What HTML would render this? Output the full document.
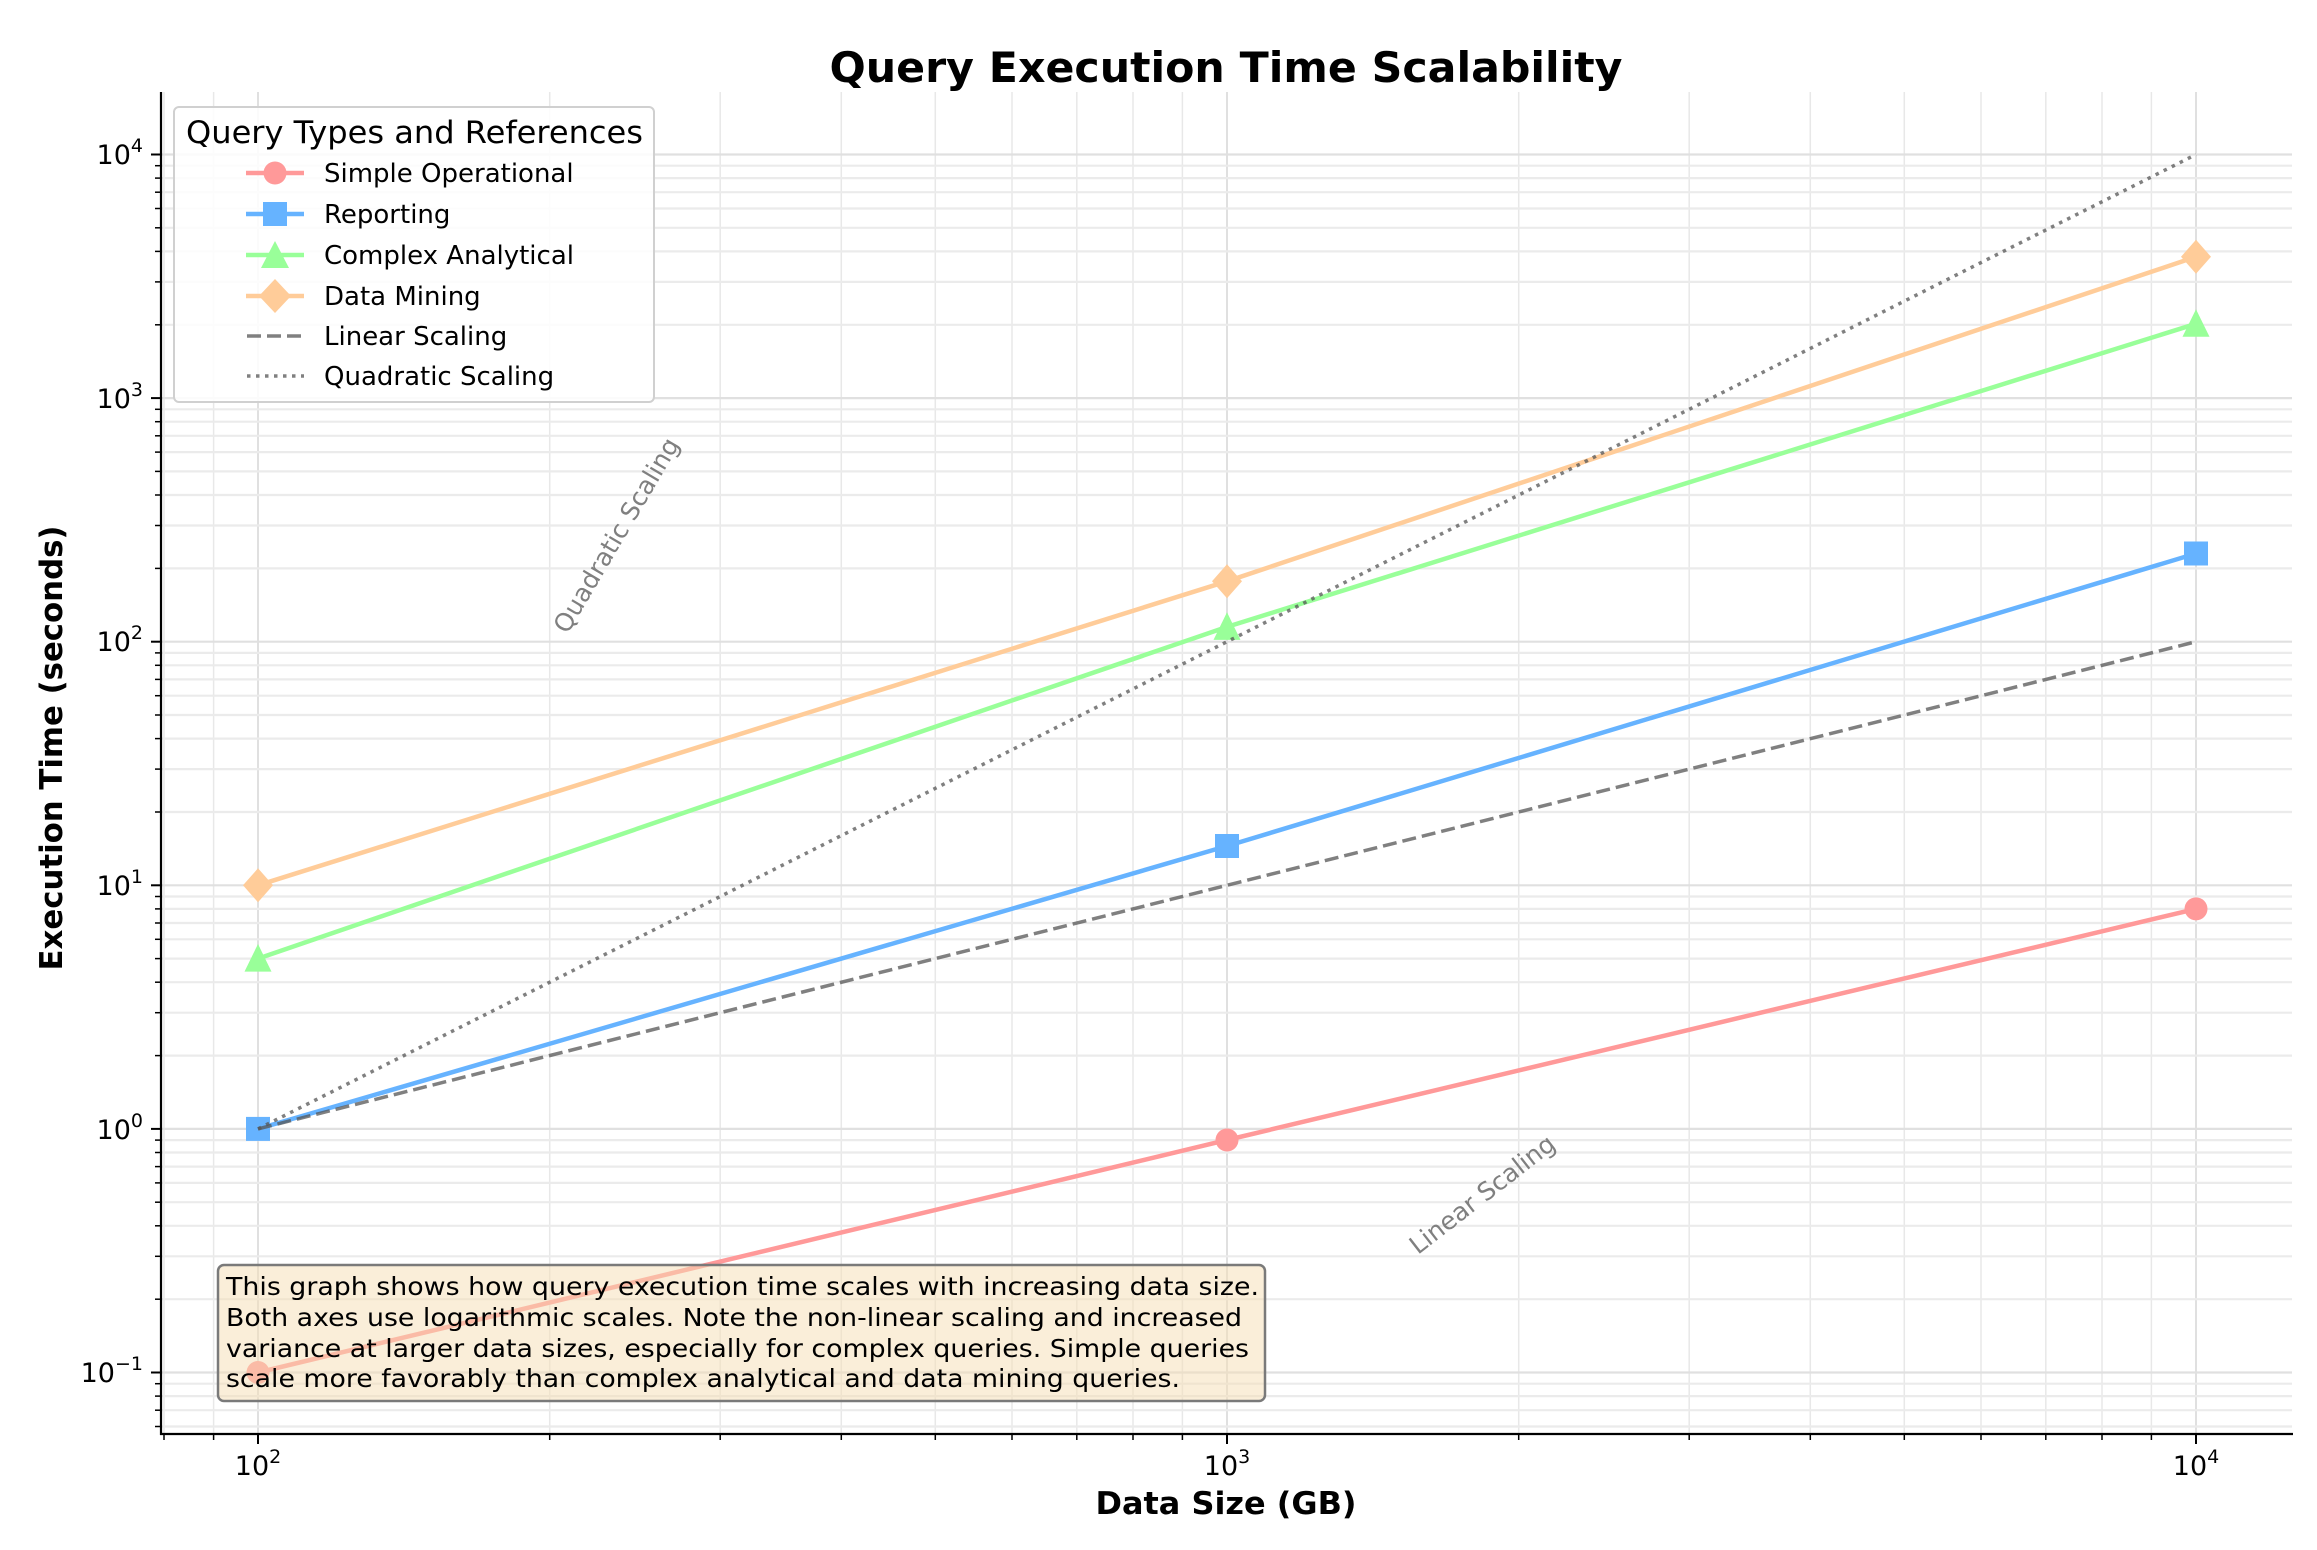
<!DOCTYPE html>
<html><head><meta charset="utf-8"><style>
html,body{margin:0;padding:0;background:#fff;}
svg{display:block;font-family:"DejaVu Sans","Liberation Sans",sans-serif;}
</style></head><body>
<svg width="2317" height="1550" viewBox="0 0 2317 1550" xmlns="http://www.w3.org/2000/svg">
<rect width="2317" height="1550" fill="#fff"/>
<g transform="translate(1,1)">
<!-- vertical grid -->
<g stroke="#e8e8e8" stroke-width="1.5">
<line x1="163" y1="91" x2="163" y2="1433"/><line x1="212.6" y1="91" x2="212.6" y2="1433"/>
<line x1="257" y1="91" x2="257" y2="1433" stroke="#e0e0e0" stroke-width="2"/>
<line x1="548.7" y1="91" x2="548.7" y2="1433"/><line x1="719.2" y1="91" x2="719.2" y2="1433"/><line x1="840.3" y1="91" x2="840.3" y2="1433"/><line x1="934.3" y1="91" x2="934.3" y2="1433"/><line x1="1011" y1="91" x2="1011" y2="1433"/><line x1="1075.8" y1="91" x2="1075.8" y2="1433"/><line x1="1132" y1="91" x2="1132" y2="1433"/><line x1="1181.4" y1="91" x2="1181.4" y2="1433"/>
<line x1="1226" y1="91" x2="1226" y2="1433" stroke="#e0e0e0" stroke-width="2"/>
<line x1="1517.7" y1="91" x2="1517.7" y2="1433"/><line x1="1688.2" y1="91" x2="1688.2" y2="1433"/><line x1="1809.3" y1="91" x2="1809.3" y2="1433"/><line x1="1903.3" y1="91" x2="1903.3" y2="1433"/><line x1="1980" y1="91" x2="1980" y2="1433"/><line x1="2044.8" y1="91" x2="2044.8" y2="1433"/><line x1="2101" y1="91" x2="2101" y2="1433"/><line x1="2150.4" y1="91" x2="2150.4" y2="1433"/>
<line x1="2195" y1="91" x2="2195" y2="1433" stroke="#e0e0e0" stroke-width="2"/>
</g>
<!-- horizontal grid -->
<g stroke="#ebebeb" stroke-width="2.2">
<line x1="159" x2="2291" y1="153.5" y2="153.5" stroke="#e0e0e0"/>
<line x1="159" x2="2291" y1="323.8" y2="323.8"/><line x1="159" x2="2291" y1="280.9" y2="280.9"/><line x1="159" x2="2291" y1="250.4" y2="250.4"/><line x1="159" x2="2291" y1="226.8" y2="226.8"/><line x1="159" x2="2291" y1="207.5" y2="207.5"/><line x1="159" x2="2291" y1="191.2" y2="191.2"/><line x1="159" x2="2291" y1="177.1" y2="177.1"/><line x1="159" x2="2291" y1="164.7" y2="164.7"/>
<line x1="159" x2="2291" y1="397.1" y2="397.1" stroke="#e0e0e0"/>
<line x1="159" x2="2291" y1="567.4" y2="567.4"/><line x1="159" x2="2291" y1="524.5" y2="524.5"/><line x1="159" x2="2291" y1="494" y2="494"/><line x1="159" x2="2291" y1="470.4" y2="470.4"/><line x1="159" x2="2291" y1="451.1" y2="451.1"/><line x1="159" x2="2291" y1="434.8" y2="434.8"/><line x1="159" x2="2291" y1="420.7" y2="420.7"/><line x1="159" x2="2291" y1="408.3" y2="408.3"/>
<line x1="159" x2="2291" y1="640.7" y2="640.7" stroke="#e0e0e0"/>
<line x1="159" x2="2291" y1="811" y2="811"/><line x1="159" x2="2291" y1="768.1" y2="768.1"/><line x1="159" x2="2291" y1="737.6" y2="737.6"/><line x1="159" x2="2291" y1="714" y2="714"/><line x1="159" x2="2291" y1="694.7" y2="694.7"/><line x1="159" x2="2291" y1="678.4" y2="678.4"/><line x1="159" x2="2291" y1="664.3" y2="664.3"/><line x1="159" x2="2291" y1="651.9" y2="651.9"/>
<line x1="159" x2="2291" y1="884.3" y2="884.3" stroke="#e0e0e0"/>
<line x1="159" x2="2291" y1="1054.6" y2="1054.6"/><line x1="159" x2="2291" y1="1011.7" y2="1011.7"/><line x1="159" x2="2291" y1="981.2" y2="981.2"/><line x1="159" x2="2291" y1="957.6" y2="957.6"/><line x1="159" x2="2291" y1="938.3" y2="938.3"/><line x1="159" x2="2291" y1="922" y2="922"/><line x1="159" x2="2291" y1="907.9" y2="907.9"/><line x1="159" x2="2291" y1="895.5" y2="895.5"/>
<line x1="159" x2="2291" y1="1127.9" y2="1127.9" stroke="#e0e0e0"/>
<line x1="159" x2="2291" y1="1298.2" y2="1298.2"/><line x1="159" x2="2291" y1="1255.3" y2="1255.3"/><line x1="159" x2="2291" y1="1224.8" y2="1224.8"/><line x1="159" x2="2291" y1="1201.2" y2="1201.2"/><line x1="159" x2="2291" y1="1181.9" y2="1181.9"/><line x1="159" x2="2291" y1="1165.6" y2="1165.6"/><line x1="159" x2="2291" y1="1151.5" y2="1151.5"/><line x1="159" x2="2291" y1="1139.1" y2="1139.1"/>
<line x1="159" x2="2291" y1="1371.5" y2="1371.5" stroke="#e0e0e0"/>
<line x1="159" x2="2291" y1="1425.5" y2="1425.5"/><line x1="159" x2="2291" y1="1409.2" y2="1409.2"/><line x1="159" x2="2291" y1="1395.1" y2="1395.1"/><line x1="159" x2="2291" y1="1382.7" y2="1382.7"/>
</g>
<!-- series -->
<g stroke-width="4.5" fill="none" stroke-linejoin="round">
<polyline points="257,1371.5 1226,1139 2195,907.9" stroke="#ff9999"/>
<polyline points="257,1127.9 1226,845 2195,552.5" stroke="#66b3ff"/>
<polyline points="257,957.6 1226,625.9 2195,322.8" stroke="#99ff99"/>
<polyline points="257,884.3 1226,580.3 2195,255.8" stroke="#ffcc99"/>
</g>
<!-- markers -->
<g fill="#ff9999"><circle cx="257" cy="1371.5" r="11.5"/><circle cx="1226" cy="1139" r="11.5"/><circle cx="2195" cy="907.9" r="11.5"/></g>
<g fill="#66b3ff"><rect x="245" y="1115.9" width="24" height="24"/><rect x="1214" y="833" width="24" height="24"/><rect x="2183" y="540.5" width="24" height="24"/></g>
<g fill="#99ff99"><polygon points="257,943 270.5,970.6 243.5,970.6"/><polygon points="1226,611.3 1239.5,638.9 1212.5,638.9"/><polygon points="2195,308.2 2208.5,335.8 2181.5,335.8"/></g>
<g fill="#ffcc99"><polygon points="257,867.3 272,884.3 257,901.3 242,884.3"/><polygon points="1226,563.3 1241,580.3 1226,597.3 1211,580.3"/><polygon points="2195,238.8 2210,255.8 2195,272.8 2180,255.8"/></g>
<!-- reference lines -->
<line x1="257" y1="1127.9" x2="2195" y2="640.7" stroke="#555" stroke-opacity="0.75" stroke-width="3.5" stroke-dasharray="14,6"/>
<line x1="257" y1="1127.9" x2="2195" y2="153.5" stroke="#555" stroke-opacity="0.75" stroke-width="3.5" stroke-dasharray="3.5,5.5"/>
<!-- annotations -->
<text x="615" y="543" font-size="25" fill="#808080" text-anchor="middle" transform="rotate(-59.4 615 534)">Quadratic Scaling</text>
<text x="1481" y="1202" font-size="25" fill="#808080" text-anchor="middle" transform="rotate(-37.8 1481 1193)">Linear Scaling</text>
</g>
<!-- axes spines -->
<line x1="161" y1="92" x2="161" y2="1435" stroke="#000" stroke-width="2.2"/>
<line x1="160" y1="1434" x2="2293" y2="1434" stroke="#000" stroke-width="2.2"/>
<!-- y ticks -->
<g stroke="#000" stroke-width="2">
<line x1="151" x2="161" y1="154.5" y2="154.5"/><line x1="151" x2="161" y1="398.1" y2="398.1"/><line x1="151" x2="161" y1="641.7" y2="641.7"/><line x1="151" x2="161" y1="885.3" y2="885.3"/><line x1="151" x2="161" y1="1128.9" y2="1128.9"/><line x1="151" x2="161" y1="1372.5" y2="1372.5"/>
</g>
<g stroke="#000" stroke-width="1.5">
<line x1="155" x2="161" y1="324.8" y2="324.8"/><line x1="155" x2="161" y1="281.9" y2="281.9"/><line x1="155" x2="161" y1="251.4" y2="251.4"/><line x1="155" x2="161" y1="227.8" y2="227.8"/><line x1="155" x2="161" y1="208.5" y2="208.5"/><line x1="155" x2="161" y1="192.2" y2="192.2"/><line x1="155" x2="161" y1="178.1" y2="178.1"/><line x1="155" x2="161" y1="165.7" y2="165.7"/>
<line x1="155" x2="161" y1="568.4" y2="568.4"/><line x1="155" x2="161" y1="525.5" y2="525.5"/><line x1="155" x2="161" y1="495" y2="495"/><line x1="155" x2="161" y1="471.4" y2="471.4"/><line x1="155" x2="161" y1="452.1" y2="452.1"/><line x1="155" x2="161" y1="435.8" y2="435.8"/><line x1="155" x2="161" y1="421.7" y2="421.7"/><line x1="155" x2="161" y1="409.3" y2="409.3"/>
<line x1="155" x2="161" y1="812" y2="812"/><line x1="155" x2="161" y1="769.1" y2="769.1"/><line x1="155" x2="161" y1="738.6" y2="738.6"/><line x1="155" x2="161" y1="715" y2="715"/><line x1="155" x2="161" y1="695.7" y2="695.7"/><line x1="155" x2="161" y1="679.4" y2="679.4"/><line x1="155" x2="161" y1="665.3" y2="665.3"/><line x1="155" x2="161" y1="652.9" y2="652.9"/>
<line x1="155" x2="161" y1="1055.6" y2="1055.6"/><line x1="155" x2="161" y1="1012.7" y2="1012.7"/><line x1="155" x2="161" y1="982.2" y2="982.2"/><line x1="155" x2="161" y1="958.6" y2="958.6"/><line x1="155" x2="161" y1="939.3" y2="939.3"/><line x1="155" x2="161" y1="923" y2="923"/><line x1="155" x2="161" y1="908.9" y2="908.9"/><line x1="155" x2="161" y1="896.5" y2="896.5"/>
<line x1="155" x2="161" y1="1299.2" y2="1299.2"/><line x1="155" x2="161" y1="1256.3" y2="1256.3"/><line x1="155" x2="161" y1="1225.8" y2="1225.8"/><line x1="155" x2="161" y1="1202.2" y2="1202.2"/><line x1="155" x2="161" y1="1182.9" y2="1182.9"/><line x1="155" x2="161" y1="1166.6" y2="1166.6"/><line x1="155" x2="161" y1="1152.5" y2="1152.5"/><line x1="155" x2="161" y1="1140.1" y2="1140.1"/>
<line x1="155" x2="161" y1="1426.5" y2="1426.5"/><line x1="155" x2="161" y1="1410.2" y2="1410.2"/><line x1="155" x2="161" y1="1396.1" y2="1396.1"/><line x1="155" x2="161" y1="1383.7" y2="1383.7"/>
</g>
<!-- x ticks -->
<g stroke="#000" stroke-width="2">
<line x1="258" x2="258" y1="1434" y2="1444"/><line x1="1227" x2="1227" y1="1434" y2="1444"/><line x1="2196" x2="2196" y1="1434" y2="1444"/>
</g>
<g stroke="#000" stroke-width="1.5">
<line x1="164" x2="164" y1="1434" y2="1440"/><line x1="213.6" x2="213.6" y1="1434" y2="1440"/>
<line x1="549.7" x2="549.7" y1="1434" y2="1440"/><line x1="720.2" x2="720.2" y1="1434" y2="1440"/><line x1="841.3" x2="841.3" y1="1434" y2="1440"/><line x1="935.3" x2="935.3" y1="1434" y2="1440"/><line x1="1012" x2="1012" y1="1434" y2="1440"/><line x1="1076.8" x2="1076.8" y1="1434" y2="1440"/><line x1="1133" x2="1133" y1="1434" y2="1440"/><line x1="1182.4" x2="1182.4" y1="1434" y2="1440"/>
<line x1="1518.7" x2="1518.7" y1="1434" y2="1440"/><line x1="1689.2" x2="1689.2" y1="1434" y2="1440"/><line x1="1810.3" x2="1810.3" y1="1434" y2="1440"/><line x1="1904.3" x2="1904.3" y1="1434" y2="1440"/><line x1="1981" x2="1981" y1="1434" y2="1440"/><line x1="2045.8" x2="2045.8" y1="1434" y2="1440"/><line x1="2102" x2="2102" y1="1434" y2="1440"/><line x1="2151.4" x2="2151.4" y1="1434" y2="1440"/>
</g>
<!-- y tick labels -->
<g font-size="27" fill="#000" text-anchor="end">
<text x="143" y="164">10<tspan font-size="19" dy="-12">4</tspan></text>
<text x="143" y="408">10<tspan font-size="19" dy="-12">3</tspan></text>
<text x="143" y="651">10<tspan font-size="19" dy="-12">2</tspan></text>
<text x="143" y="895">10<tspan font-size="19" dy="-12">1</tspan></text>
<text x="143" y="1139">10<tspan font-size="19" dy="-12">0</tspan></text>
<text x="143" y="1382">10<tspan font-size="19" dy="-12">−1</tspan></text>
</g>
<g font-size="27" fill="#000" text-anchor="middle">
<text x="258" y="1475">10<tspan font-size="19" dy="-12">2</tspan></text>
<text x="1227" y="1475">10<tspan font-size="19" dy="-12">3</tspan></text>
<text x="2196" y="1475">10<tspan font-size="19" dy="-12">4</tspan></text>
</g>
<!-- axis labels and title -->
<text x="1226" y="1514" font-size="31" font-weight="bold" text-anchor="middle" textLength="261" lengthAdjust="spacingAndGlyphs">Data Size (GB)</text>
<text x="0" y="0" font-size="31" font-weight="bold" text-anchor="middle" textLength="445" lengthAdjust="spacingAndGlyphs" transform="translate(62 748) rotate(-90)">Execution Time (seconds)</text>
<text x="1226" y="82" font-size="42" font-weight="bold" text-anchor="middle" textLength="793" lengthAdjust="spacingAndGlyphs">Query Execution Time Scalability</text>
<!-- legend -->
<rect x="174" y="107" width="480" height="295" rx="5" fill="#fff" fill-opacity="0.85" stroke="#d0d0d0" stroke-width="2"/>
<text x="186" y="143" font-size="31" textLength="457" lengthAdjust="spacingAndGlyphs">Query Types and References</text>
<g font-size="26" fill="#000">
<line x1="246" x2="304" y1="173" y2="173" stroke="#ff9999" stroke-width="4.5"/><circle cx="275" cy="173" r="11.5" fill="#ff9999"/>
<text x="324" y="182">Simple Operational</text>
<line x1="246" x2="304" y1="214" y2="214" stroke="#66b3ff" stroke-width="4.5"/><rect x="263" y="202" width="24" height="24" fill="#66b3ff"/>
<text x="324" y="223">Reporting</text>
<line x1="246" x2="304" y1="255" y2="255" stroke="#99ff99" stroke-width="4.5"/><polygon points="275,241 289,268 261,268" fill="#99ff99"/>
<text x="324" y="264">Complex Analytical</text>
<line x1="246" x2="304" y1="296" y2="296" stroke="#ffcc99" stroke-width="4.5"/><polygon points="275,279 291,296 275,313 259,296" fill="#ffcc99"/>
<text x="324" y="305">Data Mining</text>
<line x1="247" x2="304" y1="336" y2="336" stroke="#555" stroke-opacity="0.75" stroke-width="3.5" stroke-dasharray="14,6"/>
<text x="324" y="345">Linear Scaling</text>
<line x1="247" x2="304" y1="376" y2="376" stroke="#555" stroke-opacity="0.75" stroke-width="3.5" stroke-dasharray="3.5,5.5"/>
<text x="324" y="385">Quadratic Scaling</text>
</g>
<!-- text box -->
<rect x="218" y="1265" width="1047" height="136" rx="6" fill="#f5deb3" fill-opacity="0.5" stroke="#7a7a7a" stroke-width="2.5"/>
<g font-size="25" fill="#000">
<text x="226" y="1295" textLength="1033" lengthAdjust="spacingAndGlyphs">This graph shows how query execution time scales with increasing data size.</text>
<text x="226" y="1326" textLength="1016" lengthAdjust="spacingAndGlyphs">Both axes use logarithmic scales. Note the non-linear scaling and increased</text>
<text x="226" y="1357" textLength="1023" lengthAdjust="spacingAndGlyphs">variance at larger data sizes, especially for complex queries. Simple queries</text>
<text x="226" y="1387" textLength="954" lengthAdjust="spacingAndGlyphs">scale more favorably than complex analytical and data mining queries.</text>
</g>
</svg>
</body></html>
